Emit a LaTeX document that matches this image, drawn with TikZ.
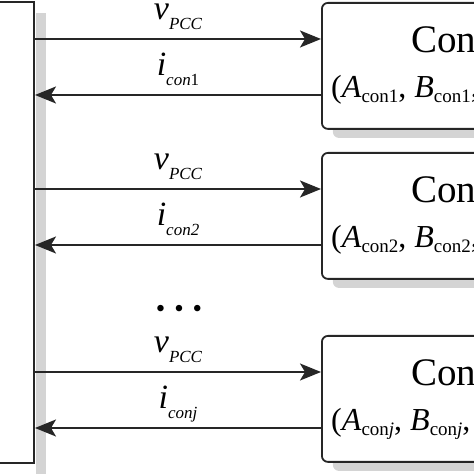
\documentclass[tikz,border=0pt]{standalone}
\usepackage{fontspec}
\setmainfont{Liberation Serif}
\usetikzlibrary{arrows.meta}
\usetikzlibrary{shadows}

\definecolor{shadowgray}{RGB}{212,212,212}
\newcommand{\subit}[1]{\raisebox{-10pt}{\fontsize{17}{17}\selectfont\itshape #1}}
\newcommand{\subrm}[1]{\raisebox{-5pt}{\fontsize{19}{19}\selectfont #1}}

\tikzset{
  wire/.style={line width=1.9pt, draw=black!85},
  flow/.style={wire, -{Stealth[length=21pt,width=17pt,inset=5pt]}},
  conbox/.style={draw=black!85, line width=1.8pt, rounded corners=6pt, fill=white,
    minimum width=380pt, minimum height=126pt, anchor=north west,
    drop shadow={shadow xshift=11pt, shadow yshift=-9pt, fill=shadowgray, opacity=1}},
  lab/.style={midway, anchor=base, yshift=19pt, inner sep=0pt, font=\fontsize{34}{36}\selectfont},
  contitle/.style={anchor=base west, inner sep=0pt, font=\fontsize{39}{42}\selectfont},
  conmat/.style={anchor=base west, inner sep=0pt, font=\fontsize{32}{36}\selectfont}
}

\begin{document}
\begin{tikzpicture}[x=1pt, y=1pt]
\useasboundingbox (0,0) rectangle (474,474);

% bus on the left and its shadow
\fill[shadowgray] (36,461) rectangle (46,0);
\node[draw=black!85, line width=1.8pt, fill=white, minimum width=140pt, minimum height=461pt,
  anchor=north east, inner sep=0pt] (pcc) at (35,473) {};

% converter blocks
\node[conbox] (con1) at (321,472) {};
\node[conbox] (con2) at (321,322) {};
\node[conbox] (con3) at (321,139) {};

\node[contitle] (con1name) at ([shift={(90,-51)}]con1.north west) {Converter 1};
\node[conmat] (con1mat) at ([shift={(10,-96)}]con1.north west)
  {(\textit{A}\subrm{con1}, \textit{B}\subrm{con1}, \textit{C}\subrm{con1}, \textit{D}\subrm{con1})};
\node[contitle] (con2name) at ([shift={(90,-51)}]con2.north west) {Converter 2};
\node[conmat] (con2mat) at ([shift={(10,-96)}]con2.north west)
  {(\textit{A}\subrm{con2}, \textit{B}\subrm{con2}, \textit{C}\subrm{con2}, \textit{D}\subrm{con2})};
\node[contitle] (con3name) at ([shift={(90,-51)}]con3.north west) {Converter \textit{j}};
\node[conmat] (con3mat) at ([shift={(10,-96)}]con3.north west)
  {(\textit{A}\subrm{con\textit{j}}, \textit{B}\subrm{con\textit{j}}, \textit{C}\subrm{con\textit{j}}, \textit{D}\subrm{con\textit{j}})};

% connection points on the blocks
\coordinate (v1) at ([yshift=-37pt]con1.north west);
\coordinate (i1) at ([yshift=-93pt]con1.north west);
\coordinate (v2) at ([yshift=-37pt]con2.north west);
\coordinate (i2) at ([yshift=-93pt]con2.north west);
\coordinate (v3) at ([yshift=-37pt]con3.north west);
\coordinate (i3) at ([yshift=-93pt]con3.north west);

\draw[flow] (pcc.east |- v1) -- (v1) node[lab] {\textit{v}\subit{PCC}};
\draw[flow] (i1) -- (pcc.east |- i1) node[lab] {\textit{i}\subit{con\upshape 1}};
\draw[flow] (pcc.east |- v2) -- (v2) node[lab] {\textit{v}\subit{PCC}};
\draw[flow] (i2) -- (pcc.east |- i2) node[lab] {\textit{i}\subit{con2}};
\draw[flow] (pcc.east |- v3) -- (v3) node[lab] {\textit{v}\subit{PCC}};
\draw[flow] (i3) -- (pcc.east |- i3) node[lab] {\textit{i}\subit{conj}};

\node[inner sep=0pt, font=\fontsize{27}{27}\selectfont] (more) at (179,163)
  {\textbullet\hspace{9pt}\textbullet\hspace{9pt}\textbullet};
\end{tikzpicture}
\end{document}
